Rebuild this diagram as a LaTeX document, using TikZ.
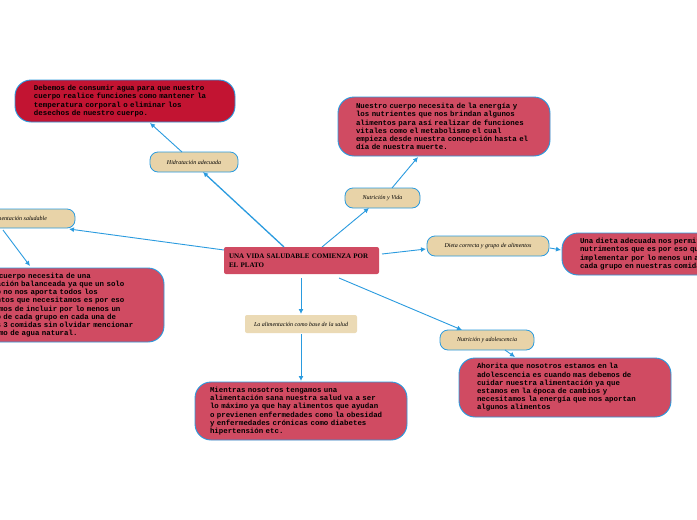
\documentclass[tikz,border=0pt]{standalone}
\usepackage{fontspec}
\setmainfont{Liberation Serif}
\setmonofont{Liberation Mono}
\usetikzlibrary{arrows.meta}
\definecolor{rosebox}{HTML}{D04B62}
\definecolor{redbox}{HTML}{C21432}
\definecolor{tanbox}{HTML}{E8D3A8}
\definecolor{linkblue}{HTML}{2A9BDF}
\tikzset{
 bigbox/.style={draw=linkblue, line width=0.9pt, rounded corners=16pt, fill=rosebox, align=left, inner sep=0pt,
   font=\ttfamily\bfseries\fontsize{7.4}{8.2}\selectfont},
 topic/.style={draw=linkblue, line width=0.8pt, rounded corners=8pt, fill=tanbox, inner sep=0pt,
   font=\itshape\fontsize{6}{7}\selectfont},
 link/.style={draw=linkblue, line width=0.9pt, -{Latex[length=5pt,width=5pt]}},
}
\begin{document}
\begin{tikzpicture}[x=1pt,y=-1pt]
\useasboundingbox (0,0) rectangle (697,520);
\clip (0,0) rectangle (697,520);
\fill[white] (0,0) rectangle (697,520);
\node[fill=rosebox, rounded corners=2pt, minimum width=155pt, minimum height=27pt, text width=145pt, align=left, inner sep=0pt,
  font=\bfseries\fontsize{7}{8.5}\selectfont] (c) at (301.5,260.5) {UNA VIDA SALUDABLE COMIENZA POR EL PLATO};

\node[topic, minimum width=88pt, minimum height=20pt] (hid) at (194,162) {Hidratación adecuada};
\node[bigbox, fill=redbox, minimum width=220pt, minimum height=42pt, text width=182pt] (hidb) at (125,101) {Debemos de consumir agua para que nuestro\\cuerpo realice funciones como mantener la\\temperatura corporal o eliminar los\\desechos de nuestro cuerpo.};

\node[topic, minimum width=75pt, minimum height=20pt] (nv) at (382.5,198) {Nutrición y Vida};
\node[bigbox, minimum width=212pt, minimum height=59pt, text width=176pt] (nvb) at (444,126.5) {Nuestro cuerpo necesita  de la energía y\\los nutrientes que nos brindan algunos\\alimentos para así realizar de funciones\\vitales como el metabolismo el cual\\empieza desde nuestra concepción hasta el\\día de nuestra muerte.};

\node[topic, minimum width=120pt, minimum height=19pt] (as) at (15,218.5) {La alimentación saludable};
\node[bigbox, minimum width=219pt, minimum height=74pt, text width=178pt] (asb) at (54.5,305) {Nuestro cuerpo necesita de una\\alimentación balanceada ya que un solo\\alimento no nos aporta todos los\\nutrimentos que necesitamos es por eso\\que debemos de incluir por lo menos un\\alimento de cada grupo en cada una de\\nuestras 3 comidas sin olvidar mencionar\\el consumo de agua natural.};

\node[topic, minimum width=122pt, minimum height=20pt] (dc) at (488,246) {Dieta correcta y grupo de alimentos};
\node[bigbox, minimum width=212pt, minimum height=42pt, text width=176pt] (dcb) at (668,254) {Una dieta adecuada nos permite obtener los\\nutrimentos que es por eso que debemos\\implementar por lo menos un alimento de\\cada grupo en nuestras comidas.};

\node[topic, draw=none, rounded corners=2pt, fill=tanbox!85!white, minimum width=112pt, minimum height=18pt] (ab) at (301,324) {La alimentación como base de la salud};
\node[bigbox, minimum width=212pt, minimum height=58pt, text width=182pt] (abb) at (301,411) {Mientras nosotros tengamos una\\alimentación sana nuestra salud va a ser\\lo máximo ya que hay alimentos que ayudan\\o previenen enfermedades como la obesidad\\y enfermedades crónicas como diabetes\\hipertensión etc.};

\node[topic, minimum width=94pt, minimum height=20pt] (na) at (487,340) {Nutrición y adolescencia};
\node[bigbox, minimum width=212pt, minimum height=59pt, text width=176pt] (nab) at (565,387.5) {Ahorita que nosotros estamos en la\\adolescencia es cuando mas debemos de\\cuidar nuestra alimentación ya que\\estamos en la época de cambios y\\necesitamos la energía que nos aportan\\algunos alimentos};

\draw[link, line width=1.3pt] (284,247) -- (203,172);
\draw[link] (182,152) -- (150,123);
\draw[link] (322,247) -- (369,208);
\draw[link] (392,188) -- (418,157);
\draw[link] (224,250) -- (69,229);
\draw[link] (3,230) -- (30,266);
\draw[link] (382,254) -- (426,249);
\draw[link] (550,248) -- (561,250);
\draw[link] (301,278) -- (301,314);
\draw[link] (301,334) -- (301,381);
\draw[link] (339,278) -- (462,330);
\draw[link] (505,350) -- (515,357);
\end{tikzpicture}
\end{document}
